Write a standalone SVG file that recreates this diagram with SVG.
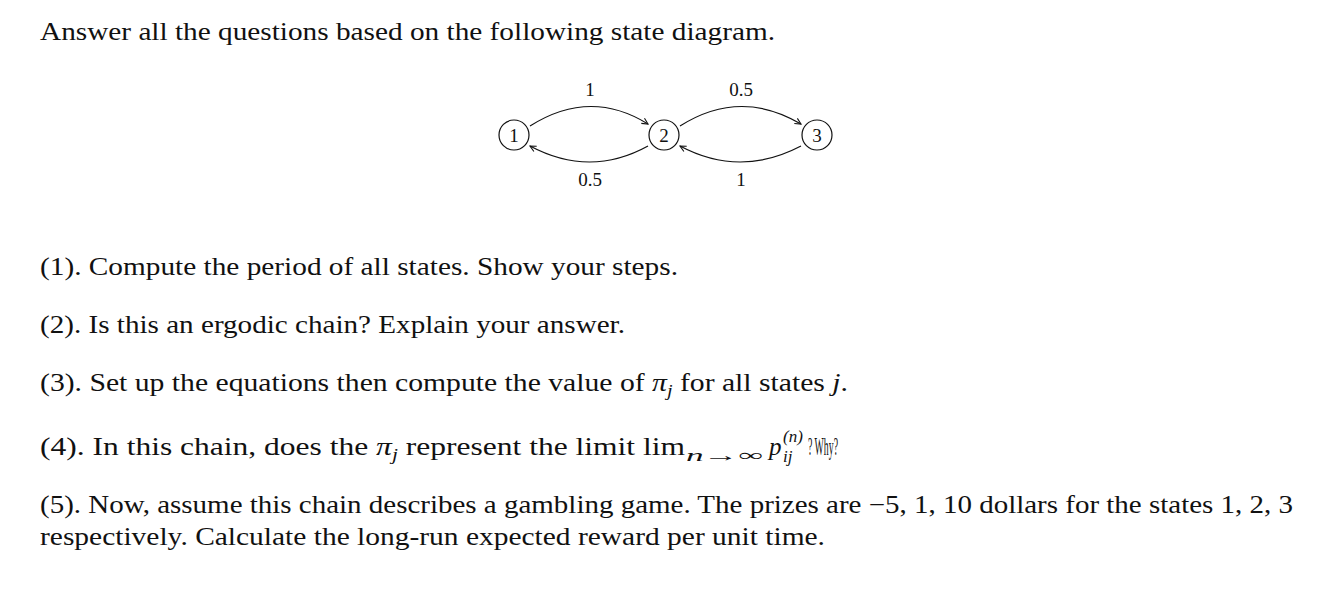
<svg xmlns="http://www.w3.org/2000/svg" width="1329" height="592" viewBox="0 0 1329 592">
<style>
.t{font-family:"Liberation Serif",serif;font-size:25px;fill:#111}
.s{font-family:"Liberation Serif",serif;font-size:17px;fill:#111}
.i{font-style:italic}
.n{font-family:"Liberation Serif",serif;font-size:19px;fill:#111;text-anchor:middle}
.c{fill:#fff;stroke:#111;stroke-width:1.2}
.e{fill:none;stroke:#111;stroke-width:1.2;marker-end:url(#a)}
</style>
<defs><marker id="a" markerWidth="8" markerHeight="8" refX="7" refY="4" orient="auto" markerUnits="userSpaceOnUse"><path d="M1,1 L7,4 L1,7" fill="none" stroke="#111" stroke-width="1.1"/></marker></defs>
<rect width="1329" height="592" fill="#fff"/>
<text class="t" x="40" y="40" textLength="735" lengthAdjust="spacingAndGlyphs">Answer all the questions based on the following state diagram.</text>
<g id="connectors">
<path class="e" d="M530,126 Q590,88 648,124"/>
<path class="e" d="M648,146 Q590,178 530,146"/>
<path class="e" d="M680,126 Q740,88 801,124"/>
<path class="e" d="M801,146 Q740,178 680,146"/>
<text class="n" x="590" y="96">1</text>
<text class="n" x="741" y="96">0.5</text>
<text class="n" x="590" y="186">0.5</text>
<text class="n" x="741" y="186">1</text>
</g>
<g id="n1"><circle class="c" cx="514" cy="135" r="15"/><text class="n" x="514" y="142">1</text></g>
<g id="n2"><circle class="c" cx="664" cy="135" r="15"/><text class="n" x="664" y="142">2</text></g>
<g id="n3"><circle class="c" cx="817" cy="135" r="15"/><text class="n" x="817" y="142">3</text></g>
<text class="t" x="40" y="275" textLength="638" lengthAdjust="spacingAndGlyphs">(1). Compute the period of all states. Show your steps.</text>
<text class="t" x="40" y="333" textLength="585" lengthAdjust="spacingAndGlyphs">(2). Is this an ergodic chain? Explain your answer.</text>
<text class="t" x="40" y="391" textLength="808" lengthAdjust="spacingAndGlyphs">(3). Set up the equations then compute the value of <tspan class="i">π</tspan><tspan class="i" font-size="17" dy="5">j</tspan><tspan dy="-5"> for all states </tspan><tspan class="i">j</tspan>.</text>
<text class="t" x="40" y="455" textLength="645" lengthAdjust="spacingAndGlyphs">(4). In this chain, does the <tspan class="i">π</tspan><tspan class="i" font-size="17" dy="5">j</tspan><tspan dy="-5"> represent the limit lim</tspan></text>
<text class="s" x="686" y="461" textLength="78" lengthAdjust="spacingAndGlyphs"><tspan class="i">n</tspan>→∞</text>
<text class="t i" x="769" y="455">p</text>
<text class="s i" x="783" y="442">(n)</text>
<text class="s i" x="783" y="462">ij</text>
<text class="t" x="808" y="455" textLength="30" lengthAdjust="spacingAndGlyphs">? Why?</text>
<text class="t" x="40" y="513" textLength="1253" lengthAdjust="spacingAndGlyphs">(5). Now, assume this chain describes a gambling game. The prizes are −5, 1, 10 dollars for the states 1, 2, 3</text>
<text class="t" x="40" y="545" textLength="785" lengthAdjust="spacingAndGlyphs">respectively. Calculate the long-run expected reward per unit time.</text>
</svg>
